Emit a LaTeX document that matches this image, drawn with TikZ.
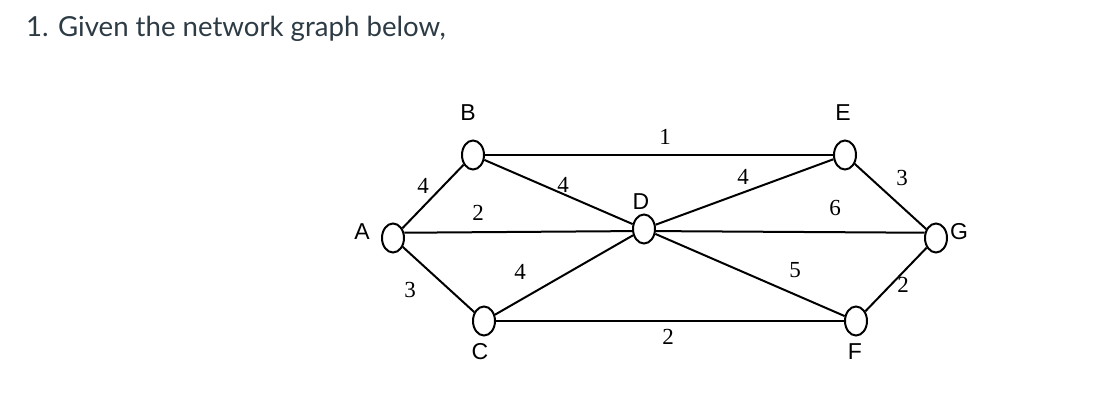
\documentclass[tikz,border=0pt]{standalone}
\usepackage{fontspec}
\setmainfont{Liberation Serif}
\newfontfamily\labelfont{Liberation Sans}
\newfontfamily\titlefont{Lato}
\usepackage{tikz}
\usetikzlibrary{shapes,arrows}
\usetikzlibrary{positioning}
\definecolor{titlegray}{HTML}{2D3B45}

\begin{document}
\begin{tikzpicture}[x=1pt,y=-1pt,
    node distance = 0mm,
every node/.style = {inner sep=2pt},
vertex/.style = {ellipse,draw,line width=2pt,minimum width=22pt,minimum height=29pt,inner sep=0pt},
edge/.style = {line width=2pt},
weight/.style = {draw=none,font=\fontsize{23}{23}\selectfont},
lbl/.style = {draw=none,font=\labelfont\fontsize{23}{23}\selectfont}]
\useasboundingbox[fill=white] (0,0) rectangle (1101,406);

\node[anchor=base west,text=titlegray,font=\titlefont\fontsize{27.6}{29}\selectfont,inner sep=0pt] (title) at (26,37) {1. Given the network graph below,};

% vertices
\node[vertex] (A) at (393,238) {};
\node[vertex] (B) at (473,155) {};
\node[vertex] (C) at (484,321) {};
\node[vertex] (D) at (644,229) {};
\node[vertex] (E) at (845,155) {};
\node[vertex] (F) at (856,321) {};
\node[vertex] (G) at (936,238) {};

\node[lbl] (la) at (362,232) {A};
\node[lbl] (lb) at (468,113) {B};
\node[lbl] (lc) at (480,352) {C};
\node[lbl] (ld) at (641,202) {D};
\node[lbl] (le) at (843,113) {E};
\node[lbl] (lf) at (855,352) {F};
\node[lbl] (lg) at (959,232) {G};

% edges
\draw[edge] (A) -- (B);
\draw[edge] (A) -- (C);
\draw[edge] (A.25) -- (D.190);
\draw[edge] (B) -- (D);
\draw[edge] (C) -- (D);
\draw[edge] (B) -- (E);
\draw[edge] (C) -- (F);
\draw[edge] (D) -- (E);
\draw[edge] (D.350) -- (G.155);
\draw[edge] (D) -- (F);
\draw[edge] (E) -- (G);
\draw[edge] (F) -- (G);

% weights
\node[weight] (wab) at (423,186) {4};
\node[weight] (wad) at (478,213) {2};
\node[weight] (wac) at (410,290) {3};
\node[weight] (wbd) at (563,185) {4};
\node[weight] (wcd) at (520,272) {4};
\node[weight] (wbe) at (665,137) {1};
\node[weight] (wde) at (743,177) {4};
\node[weight] (wdg) at (835,208) {6};
\node[weight] (wdf) at (795,270) {5};
\node[weight] (wcf) at (668,337) {2};
\node[weight] (weg) at (902,178) {3};
\node[weight] (wfg) at (903,285) {2};
\end{tikzpicture}
\end{document}
